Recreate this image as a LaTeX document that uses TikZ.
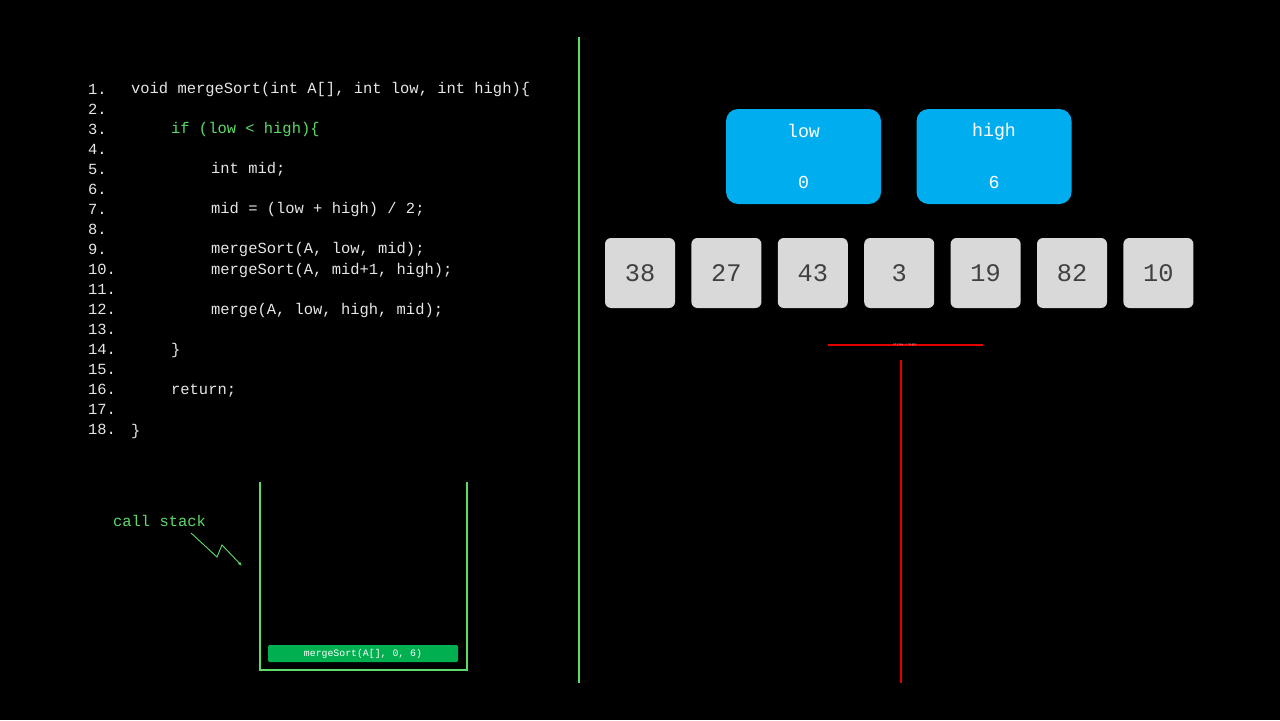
\documentclass[tikz,border=0pt]{standalone}
\usepackage{fontspec}
\setmonofont{Liberation Mono}
\usetikzlibrary{arrows.meta}
\definecolor{codec}{HTML}{E6E6E6}
\definecolor{grn}{HTML}{5CDB6A}
\definecolor{cyanb}{HTML}{00AEEF}
\definecolor{cellg}{HTML}{D9D9D9}
\definecolor{celltxt}{HTML}{404040}
\definecolor{stk}{HTML}{00B050}
\begin{document}
\begin{tikzpicture}[x=0.05cm,y=-0.05cm,
  codeline/.style={anchor=west,inner sep=0,font=\ttfamily\fontsize{22}{22}\selectfont,text=codec},
  varbox/.style={fill=cyanb,rounded corners=0.6cm,minimum width=7.75cm,minimum height=4.75cm,inner sep=0},
  cell/.style={fill=cellg,rounded corners=0.3cm,minimum width=3.5cm,minimum height=3.5cm,inner sep=0,text=celltxt,font=\ttfamily\fontsize{36}{36}\selectfont}]
\fill[black] (0,0) rectangle (1280,720);
\useasboundingbox (0,0) rectangle (1280,720);
% code
\foreach \n in {1,...,18}{
  \node[codeline] (ln\n) at (88,{89+20*(\n-1)}) {\n.};
}
\node[codeline] (c1) at (131,89) {void mergeSort(int A[], int low, int high)\{};
\node[codeline,text=grn] (c3) at (171,129) {if (low < high)\{};
\node[codeline] (c5) at (211,169) {int mid;};
\node[codeline] (c7) at (211,209) {mid = (low + high) / 2;};
\node[codeline] (c9) at (211,249) {mergeSort(A, low, mid);};
\node[codeline] (c10) at (211,270) {mergeSort(A, mid+1, high);};
\node[codeline] (c12) at (211,310) {merge(A, low, high, mid);};
\node[codeline] (c14) at (171,350) {\}};
\node[codeline] (c16) at (171,391) {return;};
\node[codeline] (c18) at (131,431) {\}};
% divider
\draw[grn,line width=1.6pt] (579,37) -- (579,683);
% call stack
\draw[grn,line width=1.6pt] (260,482) -- (260,670) -- (467,670) -- (467,482);
\node[fill=stk,rounded corners=2pt,minimum width=9.5cm,minimum height=0.85cm,inner sep=0,text=white,font=\ttfamily\fontsize{14}{14}\selectfont] (s1) at (363,653.5) {mergeSort(A[], 0, 6)};
\node[codeline,text=grn] (cs) at (113,521) {call stack};
\coordinate (z1) at (191,533);
\coordinate (z2) at (242,566);
\draw[grn,line width=1.3pt,-{Latex[length=6pt]}] (z1) -- (217,557) -- (222,545) -- (z2);
% variable boxes
\node[varbox] (low) at (803.5,156.5) {};
\node[text=white,font=\ttfamily\fontsize{26}{26}\selectfont] (lowt) at (803.5,131) {low};
\node[text=white,font=\ttfamily\fontsize{26}{26}\selectfont] (lowv) at (803.5,182) {0};
\node[varbox] (high) at (994,156.5) {};
\node[text=white,font=\ttfamily\fontsize{26}{26}\selectfont] (hight) at (994,132) {high};
\node[text=white,font=\ttfamily\fontsize{26}{26}\selectfont] (highv) at (994,182) {6};
% array
\foreach \v [count=\i from 0] in {38,27,43,3,19,82,10}{
  \node[cell] (a\i) at ({640+86.4*\i},273) {\v};
}
% red marker
\coordinate (r1) at (828,345);
\coordinate (r2) at (983,345);
\draw[red!90!black,line width=4pt] (r1) -- (r2);
\node[text=white!70!red,font=\ttfamily\fontsize{4}{4}\selectfont] (rl) at (905,345) {if(low < high)};
\coordinate (v1) at (901,360);
\coordinate (v2) at (901,683);
\draw[red!90!black,line width=4pt] (v1) -- (v2);
\end{tikzpicture}
\end{document}
